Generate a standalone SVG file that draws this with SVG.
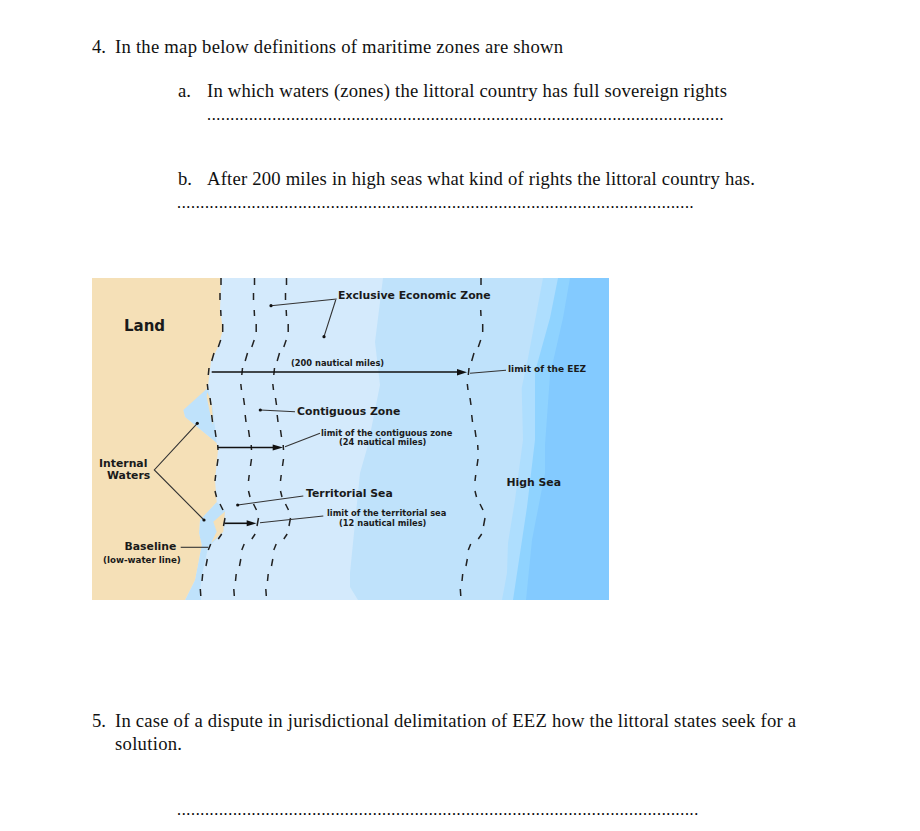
<svg xmlns="http://www.w3.org/2000/svg" xmlns:xlink="http://www.w3.org/1999/xlink" width="920" height="831" viewBox="0 0 920 831">
<style>
.q{font-family:"Liberation Serif","Times New Roman",serif;font-size:18.67px;fill:#111}
.d{font-family:"Liberation Serif","Times New Roman",serif;font-size:16px;fill:#000;letter-spacing:.66px}
.m{font-family:"DejaVu Sans",sans-serif;font-weight:bold;fill:#1a1a1a}
.l{font-size:10.85px}.s{font-size:8.3px}
.lead{fill:none;stroke:#333;stroke-width:1.1}
.dash{fill:none;stroke:#222;stroke-width:1.5}
.arr{stroke:#111;stroke-width:1.6;fill:none}
</style>
<defs>
<path id="limit-top" class="dash" d="M221 278V285M220.7 310L221 316M222.7 324V332M220.7 340L218.3 347M214 353L211.7 361M209 368L208.3 375M207.3 384L208 390M210 398L211 405M211.7 415L212.5 422M215 430L216 437M217.7 445L218 450M218 459L217 466M215.7 475L215 481M215 491L216.5 497M220 504L223 510M225 518L223.5 526M221.7 534L218.3 539M210.7 544L208.3 550M207.3 559L206 566M202.7 574L202 581M200.3 589L200.8 596"/>
</defs>
<rect width="920" height="831" fill="#fff"/>
<g id="questions">
<text class="q" x="92" y="53">4.</text>
<text class="q" x="115" y="53" textLength="448" lengthAdjust="spacing">In the map below definitions of maritime zones are shown</text>
<text class="q" x="178" y="97">a.</text>
<text class="q" x="207" y="97" textLength="520" lengthAdjust="spacing">In which waters (zones) the littoral country has full sovereign rights</text>
<text class="d" x="207" y="119.5">...............................................................................................................</text>
<text class="q" x="178" y="185">b.</text>
<text class="q" x="207" y="185" textLength="548" lengthAdjust="spacing">After 200 miles in high seas what kind of rights the littoral country has.</text>
<text class="d" x="177" y="207.5">...............................................................................................................</text>
<text class="q" x="92" y="727">5.</text>
<text class="q" x="115" y="727" textLength="681" lengthAdjust="spacing">In case of a dispute in jurisdictional delimitation of EEZ how the littoral states seek for a</text>
<text class="q" x="115" y="750" textLength="67" lengthAdjust="spacing">solution.</text>
<text class="d" x="177" y="814.5">................................................................................................................</text>
</g>
<g id="map">
<rect x="92" y="278" width="517" height="322" fill="#83caff"/>
<path fill="#8fd3ff" d="M92 278H570L563 318L550 375L545 445V473L532 540L526 600H92Z"/>
<path fill="#aedefe" d="M92 278H558L550 318L535 372V440L527 507L513 600H92Z"/>
<path fill="#bfe2fb" d="M92 278H543L528 358L521.7 388L523 440L515 500L508 543L507 573L502 600H92Z"/>
<path fill="#d4eafc" d="M92 278H383L375 342L380 385L368 445L360 473L350 573V587L358 600H92Z"/>
<path fill="#bfe2fb" d="M207.7 386L183 410L185 417L216.7 443L213 410L209 392ZM216.7 502L200 520L199 533L201.7 545L195 580L185 600H201L200 590L203 570L208 548L223 532L225 511Z"/>
<path fill="#f5e0b7" d="M92 278H221L220 310L223 330L218 347L211 361L207.7 388L183.3 410L185 417L216.7 443L218 450L215 480L216.7 502L200 520L199 533L201.7 545L195 580L185 600H92Z"/>
<path fill="#f5e0b7" d="M207 392L206.7 397L210 413L213 425L213.3 420L211 400ZM225 511.5L213.3 521.7L216.7 531.7L211 543L223.3 531.7Z"/>
</g>
<g id="connectors">
<use xlink:href="#limit-top" href="#limit-top"/>
<use xlink:href="#limit-top" href="#limit-top" transform="translate(33.5 0)"/>
<use xlink:href="#limit-top" href="#limit-top" transform="translate(65.5 0)"/>
<use xlink:href="#limit-top" href="#limit-top" transform="translate(260 0)"/>
<path class="dash" d="M220 293V300M253.5 293V300M285.5 293V300"/>
<path class="arr" d="M211.7 372H458"/><path d="M457 369L467 372.2L457 375.4Z" fill="#111"/>
<path class="arr" d="M218 447.5H273"/><path d="M272.7 444.5L283 447.5L272.7 450.5Z" fill="#111"/>
<path class="arr" d="M224.5 523.3H247"/><path d="M246.7 520.3L256.5 523.3L246.7 526.3Z" fill="#111"/>
<path class="lead" d="M271 305.7L336.7 299M335.7 300L324 336.7"/>
<circle cx="271" cy="305.7" r="1.6" fill="#111"/><circle cx="324" cy="336.7" r="1.6" fill="#111"/>
<path class="lead" d="M470 373.3L506 370.3"/>
<path class="lead" d="M260.3 410L295 411.7"/><circle cx="260.3" cy="410" r="1.6" fill="#111"/>
<path class="lead" d="M285 446.7L320 433.3"/>
<path class="lead" d="M197.3 423.3L154.3 470L204 520"/>
<circle cx="197.3" cy="423.3" r="1.6" fill="#111"/><circle cx="204" cy="520" r="1.6" fill="#111"/>
<path class="lead" d="M180.7 547.3H208.3"/>
<path class="lead" d="M237.7 505L303.3 496"/><circle cx="237.7" cy="505" r="1.6" fill="#111"/>
<path class="lead" d="M260 522.7L323.3 516"/>
</g>
<g id="labels">
<text class="m" x="124" y="331" font-size="15">Land</text>
<text class="m l" x="338" y="299">Exclusive Economic Zone</text>
<text class="m s" x="291" y="366">(200 nautical miles)</text>
<text class="m" x="508" y="372" font-size="9">limit of the EEZ</text>
<text class="m l" x="297" y="415">Contiguous Zone</text>
<text class="m s" x="321" y="436">limit of the contiguous zone</text>
<text class="m s" x="339" y="445">(24 nautical miles)</text>
<text class="m l" x="99" y="467">Internal</text>
<text class="m l" x="107" y="479">Waters</text>
<text class="m l" x="506.5" y="486">High Sea</text>
<text class="m l" x="306" y="497">Territorial Sea</text>
<text class="m s" x="327" y="516">limit of the territorial sea</text>
<text class="m s" x="339" y="526">(12 nautical miles)</text>
<text class="m l" x="124.5" y="550">Baseline</text>
<text class="m" x="103" y="563" font-size="8.7">(low-water line)</text>
</g>
</svg>
